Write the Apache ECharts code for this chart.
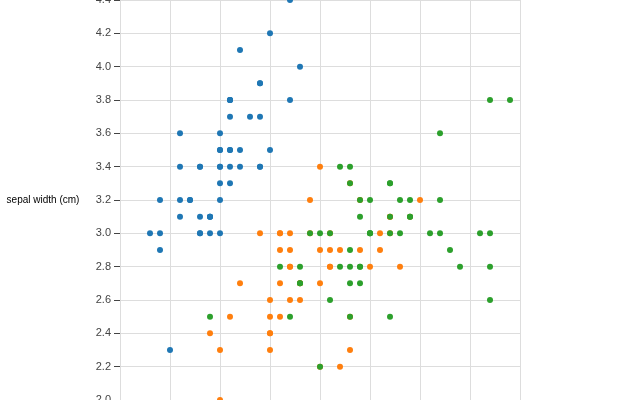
<!DOCTYPE html>
<html><head><meta charset="utf-8">
<script src="https://cdn.jsdelivr.net/npm/echarts@6/dist/echarts.min.js"></script>
<style>html,body{margin:0;padding:0;background:#fff}#c{width:640px;height:400px}</style>
</head><body><div id="c"></div>
<script>
const species = ['setosa', 'versicolor', 'virginica'];
const setosa = [[5.1,3.5],[4.9,3.0],[4.7,3.2],[4.6,3.1],[5.0,3.6],[5.4,3.9],[4.6,3.4],[5.0,3.4],[4.4,2.9],[4.9,3.1],[5.4,3.7],[4.8,3.4],[4.8,3.0],[4.3,3.0],[5.8,4.0],[5.7,4.4],[5.4,3.9],[5.1,3.5],[5.7,3.8],[5.1,3.8],[5.4,3.4],[5.1,3.7],[4.6,3.6],[5.1,3.3],[4.8,3.4],[5.0,3.0],[5.0,3.4],[5.2,3.5],[5.2,3.4],[4.7,3.2],[4.8,3.1],[5.4,3.4],[5.2,4.1],[5.5,4.2],[4.9,3.1],[5.0,3.2],[5.5,3.5],[4.9,3.1],[4.4,3.0],[5.1,3.4],[5.0,3.5],[4.5,2.3],[4.4,3.2],[5.0,3.5],[5.1,3.8],[4.8,3.0],[5.1,3.8],[4.6,3.2],[5.3,3.7],[5.0,3.3]];
const versicolor = [[7.0,3.2],[6.4,3.2],[6.9,3.1],[5.5,2.3],[6.5,2.8],[5.7,2.8],[6.3,3.3],[4.9,2.4],[6.6,2.9],[5.2,2.7],[5.0,2.0],[5.9,3.0],[6.0,2.2],[6.1,2.9],[5.6,2.9],[6.7,3.1],[5.6,3.0],[5.8,2.7],[6.2,2.2],[5.6,2.5],[5.9,3.2],[6.1,2.8],[6.3,2.5],[6.1,2.8],[6.4,2.9],[6.6,3.0],[6.8,2.8],[6.7,3.0],[6.0,2.9],[5.7,2.6],[5.5,2.4],[5.5,2.4],[5.8,2.7],[6.0,2.7],[5.4,3.0],[6.0,3.4],[6.7,3.1],[6.3,2.3],[5.6,3.0],[5.5,2.5],[5.5,2.6],[6.1,3.0],[5.8,2.6],[5.0,2.3],[5.6,2.7],[5.7,3.0],[5.7,2.9],[6.2,2.9],[5.1,2.5],[5.7,2.8]];
const virginica = [[6.3,3.3],[5.8,2.7],[7.1,3.0],[6.3,2.9],[6.5,3.0],[7.6,3.0],[4.9,2.5],[7.3,2.9],[6.7,2.5],[7.2,3.6],[6.5,3.2],[6.4,2.7],[6.8,3.0],[5.7,2.5],[5.8,2.8],[6.4,3.2],[6.5,3.0],[7.7,3.8],[7.7,2.6],[6.0,2.2],[6.9,3.2],[5.6,2.8],[7.7,2.8],[6.3,2.7],[6.7,3.3],[7.2,3.2],[6.2,2.8],[6.1,3.0],[6.4,2.8],[7.2,3.0],[7.4,2.8],[7.9,3.8],[6.4,2.8],[6.3,2.8],[6.1,2.6],[7.7,3.0],[6.3,3.4],[6.4,3.1],[6.0,3.0],[6.9,3.1],[6.7,3.1],[6.9,3.1],[5.8,2.7],[6.8,3.2],[6.7,3.3],[6.7,3.0],[6.3,2.5],[6.5,3.0],[6.2,3.4],[5.9,3.0]];
const colors = ['#1f77b4', '#ff7f0e', '#2ca02c'];
const yLabel = 'sepal width (cm)';

const chart = echarts.init(document.getElementById('c'), null, {renderer: 'canvas'});
const dataSets = [setosa, versicolor, virginica];
chart.setOption({
  animation: false,
  grid: {left: 120, right: 120, top: 0, bottom: 0, containLabel: false, outerBoundsMode: 'none'},
  xAxis: {
    type: 'value', min: 4.0, max: 8.0, interval: 0.5,
    axisLine: {show: false}, axisTick: {show: false}, axisLabel: {show: false},
    splitLine: {show: true, lineStyle: {color: '#dddddd', width: 1}}
  },
  yAxis: {
    type: 'value', min: 2.0, max: 4.4, interval: 0.2,
    name: yLabel, nameLocation: 'middle', nameRotate: 0, nameGap: 77,
    nameTextStyle: {color: '#000', fontFamily: 'Liberation Sans', fontSize: 10, align: 'center'},
    axisLine: {show: false},
    axisTick: {show: true, length: 6, lineStyle: {color: '#444'}},
    axisLabel: {color: '#444', fontFamily: 'Liberation Sans', fontSize: 11, margin: 9,
      formatter: v => v.toFixed(1)},
    splitLine: {show: true, lineStyle: {color: '#dddddd', width: 1}}
  },
  series: dataSets.map((d, i) => ({
    name: species[i], type: 'scatter', data: d, symbolSize: 6,
    itemStyle: {color: colors[i], opacity: 1}
  }))
});
</script></body></html>
